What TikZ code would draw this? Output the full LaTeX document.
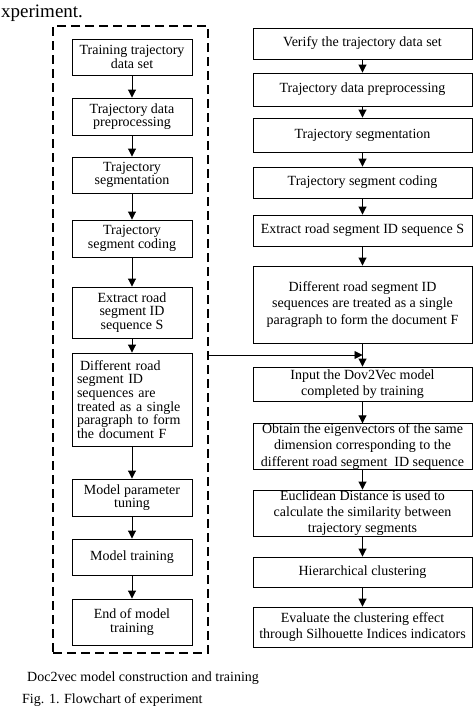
\documentclass[tikz,border=0pt]{standalone}
\usepackage{fontspec}
\setmainfont{Liberation Serif}
\usetikzlibrary{arrows.meta}
\begin{document}
\begin{tikzpicture}[x=1pt,y=-1pt,
  lbox/.style={draw,line width=0.9pt,inner sep=0pt,minimum width=120pt,align=center,font=\fontsize{14}{13.6}\selectfont},
  rbox/.style={draw,line width=0.9pt,inner sep=0pt,minimum width=219pt,align=center,font=\fontsize{14}{16.3}\selectfont},
  arr/.style={-{Triangle[width=8pt,length=8pt]},line width=0.9pt},
  dashframe/.style={draw,dash pattern=on 9pt off 5pt,line width=1.3pt,inner sep=0pt,minimum width=155pt,minimum height=627pt},
  captxt/.style={inner sep=0pt,anchor=base west,font=\fontsize{14}{16}\selectfont}
]
\useasboundingbox (0,0) rectangle (474,707);
\clip (0,0) rectangle (474,707);

% page fragments
\node[inner sep=0pt,anchor=base west,font=\fontsize{19}{22}\selectfont] (exp) at (1,17) {xperiment.};
\node[captxt] (cap) at (27,681) {Doc2vec model construction and training};
\node[captxt] (fig) at (22,703) {Fig. 1. Flowchart of experiment};

% dashed frame
\node[dashframe] (frm) at (130.5,339.5) {};

% left column
\node[lbox,minimum height=36pt] (L1) at (132,57) {Training trajectory\\data set};
\node[lbox,minimum height=37pt] (L2) at (132,116.5) {Trajectory data\\preprocessing};
\node[lbox,minimum height=36pt] (L3) at (132,175) {Trajectory\\segmentation};
\node[lbox,minimum height=37pt] (L4) at (132,238.5) {Trajectory\\segment coding};
\node[lbox,minimum height=51pt] (L5) at (132,312.5) {Extract road\\segment ID\\sequence S};
\node[lbox,minimum height=93pt,text width=110pt,inner xsep=5pt,align=left] (L6) at (132,399.5)
  {\hspace*{3pt}Different road\\segment ID\\sequences are\\treated as a single\\paragraph to form\\the document F};
\node[lbox,minimum height=37pt] (L7) at (132,497.5) {Model parameter\\tuning};
\node[lbox,minimum height=36pt] (L8) at (132,557) {Model training};
\node[lbox,minimum height=46pt] (L9) at (132,622) {End of model\\training};

\foreach \a/\b in {L1/L2,L2/L3,L3/L4,L4/L5,L5/L6,L6/L7,L7/L8,L8/L9}
  \draw[arr] (\a.south) -- (\b.north);

% right column
\node[rbox,minimum height=31pt] (R1) at (362.5,43.5) {Verify the trajectory data set};
\node[rbox,minimum height=33pt] (R2) at (362.5,89.5) {Trajectory data preprocessing};
\node[rbox,minimum height=34pt] (R3) at (362.5,135) {Trajectory segmentation};
\node[rbox,minimum height=31pt] (R4) at (362.5,182.5) {Trajectory segment coding};
\node[rbox,minimum height=31pt] (R5) at (362.5,230.5) {Extract road segment ID sequence S};
\node[rbox,minimum height=77pt] (R6) at (362.5,304.5) {Different road segment ID\\sequences are treated as a single\\paragraph to form the document F};
\node[rbox,minimum height=34pt] (R7) at (362.5,384) {Input the Dov2Vec model\\completed by training};
\node[rbox,minimum height=45pt] (R8) at (362.5,446.5) {Obtain the eigenvectors of the same\\dimension corresponding to the\\different road segment\ \ ID sequence};
\node[rbox,minimum height=46pt] (R9) at (362.5,513) {Euclidean Distance is used to\\calculate the similarity between\\trajectory segments};
\node[rbox,minimum height=30pt] (R10) at (362.5,572) {Hierarchical clustering};
\node[rbox,minimum height=40pt] (R11) at (362.5,627) {Evaluate the clustering effect\\through Silhouette Indices indicators};

\foreach \a/\b in {R1/R2,R2/R3,R3/R4,R4/R5,R5/R6,R6/R7,R7/R8,R8/R9,R9/R10,R10/R11}
  \draw[arr] (\a.south) -- (\b.north);

% link from training frame to the right column
\coordinate (join) at (362.5,355);
\draw[arr] (frm.east |- join) -- (join);
\end{tikzpicture}
\end{document}
